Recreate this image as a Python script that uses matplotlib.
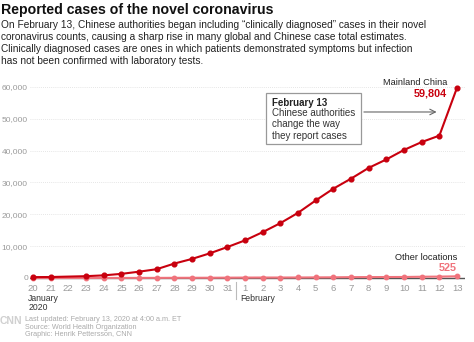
import pandas as pd
import matplotlib
matplotlib.use("Agg")
import matplotlib.pyplot as plt

plt.rcParams['font.family'] = ['Liberation Sans', 'DejaVu Sans']

# WHO counts, reported by date (no report for Jan 22)
dates = ["2020-01-20", "2020-01-21", "2020-01-23", "2020-01-24", "2020-01-25",
         "2020-01-26", "2020-01-27", "2020-01-28", "2020-01-29", "2020-01-30",
         "2020-01-31", "2020-02-01", "2020-02-02", "2020-02-03", "2020-02-04",
         "2020-02-05", "2020-02-06", "2020-02-07", "2020-02-08", "2020-02-09",
         "2020-02-10", "2020-02-11", "2020-02-12", "2020-02-13"]
china = [278, 310, 571, 830, 1297, 1985, 2761, 4537, 5997, 7736, 9720, 11821,
         14411, 17238, 20471, 24363, 28060, 31211, 34598, 37251, 40235, 42708,
         44730, 59804]
other = [4, 4, 10, 16, 23, 29, 37, 56, 68, 82, 106, 132, 146, 153, 159, 191,
         216, 270, 288, 307, 319, 395, 441, 525]
y_ticks = [0, 10000, 20000, 30000, 40000, 50000, 60000]

start = pd.Timestamp("2020-01-20")
day_range = pd.date_range(start, "2020-02-13")
x = [(pd.Timestamp(d) - start).days for d in dates]
all_days = [(d - start).days for d in day_range]
feb_first = (pd.Timestamp("2020-02-01") - start).days

red = "#c8000e"
pink = "#f0737c"
grey = "#9a9a9a"

fig = plt.figure(figsize=(4.74, 3.42), dpi=100)
ax = fig.add_axes([30 / 474, 60 / 342, 435 / 474, 197 / 342])

ax.set_xlim(-0.17, 24.45)
ax.set_ylim(-1257, 60628)

for t in y_ticks[1:]:
    ax.axhline(t, color="#dddddd", lw=0.6, ls=(0, (1, 1.5)), zorder=0)
ax.axhline(0, color="#555555", lw=1.0, zorder=1)

ax.plot(x, other, color=pink, lw=1.5, marker="o", ms=3.2, zorder=3)
ax.plot(x, china, color=red, lw=1.5, marker="o", ms=3.4, zorder=4)

ax.set_yticks(y_ticks)
ax.set_yticklabels([f"{t:,}" for t in y_ticks])
ax.set_xticks(all_days)
ax.set_xticklabels([str(d.day) for d in day_range])
ax.tick_params(axis="both", length=0, colors=grey)
ax.tick_params(axis="y", pad=1.5, labelsize=6.0)
ax.tick_params(axis="x", pad=1.5, labelsize=6.8)
for s in ax.spines.values():
    s.set_visible(False)

# month labels and divider under the axis
ax.annotate("January\n2020", xy=(-0.27, 0), xycoords=("data", "axes fraction"),
            xytext=(0, -8.5), textcoords="offset points", ha="left", va="top",
            fontsize=6.2, color="#333333", linespacing=1.05)
ax.annotate("February", xy=(feb_first - 0.27, 0), xycoords=("data", "axes fraction"),
            xytext=(0, -8.5), textcoords="offset points", ha="left", va="top",
            fontsize=6.2, color="#333333")
ax.plot([feb_first - 0.5] * 2, [-0.0, -0.085], transform=ax.get_xaxis_transform(),
        color="#bbbbbb", lw=0.8, clip_on=False)

# series labels
ax.annotate("Mainland China", xy=(x[-1], china[-1]), xytext=(-7, 3.6),
            textcoords="offset points", ha="right", va="center", fontsize=6.7,
            color="#222222")
ax.annotate(f"{china[-1]:,}", xy=(x[-1], china[-1]), xytext=(-7, -3.9),
            textcoords="offset points", ha="right", va="center", fontsize=7.8,
            color=red, fontweight="bold")
ax.annotate("Other locations", xy=(x[-1], other[-1]), xytext=(0, 13.7),
            textcoords="offset points", ha="right", va="center", fontsize=6.7,
            color="#222222")
ax.annotate(f"{other[-1]:,}", xy=(x[-1], other[-1]), xytext=(0, 5.8),
            textcoords="offset points", ha="right", va="center", fontsize=7.8,
            color=pink, fontweight="bold")

# callout box with arrow
ax.annotate("", xy=(23.0, 52150), xytext=(18.57, 52150),
            arrowprops=dict(arrowstyle="->", color="#666666", lw=0.8))
ax.text(13.5, 56500, "February 13", fontsize=7, fontweight="bold",
        color="#222222", va="top", ha="left", zorder=6)
ax.text(13.5, 53400, "Chinese authorities\nchange the way\nthey report cases",
        fontsize=7, color="#333333", va="top", ha="left", linespacing=1.18, zorder=6)
ax.add_patch(plt.Rectangle((13.19, 42100), 5.38, 16000, fill=True, fc="white",
                           ec="#999999", lw=0.9, zorder=5))

# title, intro and footer
fig.text(0.003, 1 - 10 / 342, "Reported cases of the novel coronavirus",
         fontsize=10.2, fontweight="bold", va="center", ha="left", color="#111111")
fig.text(0.003, 1 - 20 / 342,
         "On February 13, Chinese authorities began including \u201cclinically diagnosed\u201d cases in their novel\n"
         "coronavirus counts, causing a sharp rise in many global and Chinese case total estimates.\n"
         "Clinically diagnosed cases are ones in which patients demonstrated symptoms but infection\n"
         "has not been confirmed with laboratory tests.",
         fontsize=7.3, va="top", ha="left", color="#222222", linespacing=1.27)

fig.text(0.0, 1 - 321 / 342, "CNN", fontsize=7.5, fontweight="bold", color="#d0d0d0",
         va="center", ha="left")
fig.text(25 / 474, 1 - 316 / 342,
         "Last updated: February 13, 2020 at 4:00 a.m. ET\n"
         "Source: World Health Organization\n"
         "Graphic: Henrik Pettersson, CNN",
         fontsize=5.2, color="#aaaaaa", va="top", ha="left", linespacing=1.15)

fig.savefig("out.png", dpi=100)
